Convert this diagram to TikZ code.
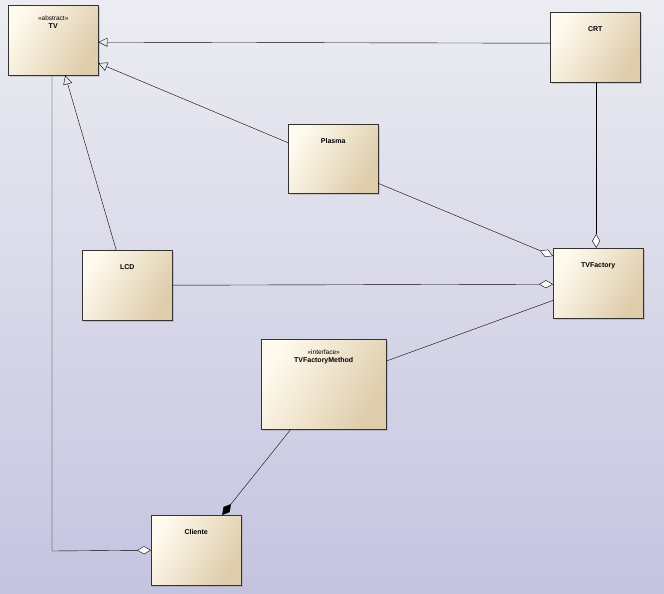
\documentclass[tikz,border=0pt]{standalone}
\usepackage{fontspec}
\setmainfont{Liberation Sans}
\usetikzlibrary{arrows.meta,shadows}
\definecolor{bgtop}{RGB}{236,236,242}
\definecolor{bgbot}{RGB}{196,196,224}
\definecolor{boxlt}{RGB}{255,250,238}
\definecolor{boxdk}{RGB}{222,204,170}
\begin{document}
\begin{tikzpicture}[x=1pt,y=-1pt,
    cls/.style={draw=black!80,anchor=north west,inner sep=0pt,
      shading=axis,left color=boxlt,right color=boxdk,shading angle=60,
      drop shadow={shadow xshift=2pt,shadow yshift=-2pt,opacity=.3}},
    title/.style={anchor=north,font=\fontsize{7}{8}\selectfont\bfseries,align=center},
    gen/.style={draw=black,-{Triangle[open,length=9pt,width=9pt]}},
    agg/.style={draw=black,-{Diamond[fill=white,length=14pt,width=8pt]}},
    comp/.style={draw=black,-{Diamond[length=14pt,width=8pt]}}]
  \shade[top color=bgtop,bottom color=bgbot] (0,0) rectangle (664,594);
  \useasboundingbox (0,0) rectangle (664,594);
  % classes
  \node[cls,minimum width=90,minimum height=70] (tv) at (8,5) {};
  \node[title] at ([yshift=-7]tv.north) {\fontsize{6.5}{8}\selectfont\mdseries «abstract»\\TV};
  \node[cls,minimum width=90,minimum height=70] (crt) at (550,12) {};
  \node[title] at ([yshift=-11]crt.north) {CRT};
  \node[cls,minimum width=90,minimum height=69] (plasma) at (288,124) {};
  \node[title] at ([yshift=-11]plasma.north) {Plasma};
  \node[cls,minimum width=90,minimum height=70] (lcd) at (82,250) {};
  \node[title] at ([yshift=-11]lcd.north) {LCD};
  \node[cls,minimum width=90,minimum height=70] (fact) at (553,248) {};
  \node[title] at ([yshift=-11]fact.north) {TVFactory};
  \node[cls,minimum width=125,minimum height=90] (meth) at (261,339) {};
  \node[title] at ([yshift=-7]meth.north) {\fontsize{6.5}{8}\selectfont\mdseries «interface»\\TVFactoryMethod};
  \node[cls,minimum width=90,minimum height=70] (cli) at (151,515) {};
  \node[title] at ([yshift=-11]cli.north) {Cliente};
  \coordinate (corner) at (52,551);
  % connectors
  \draw[gen] ([yshift=4]crt.west) -- ([yshift=-2]tv.east);
  \draw[gen] ([yshift=16]plasma.west) -- ([yshift=-23]tv.east);
  \draw[gen] ([xshift=-11]lcd.north) -- ([xshift=12]tv.south);
  \draw[agg] (tv.south -| corner) -- (corner) -- (cli.west);
  \draw[agg] ([xshift=1]crt.south) -- ([xshift=-2]fact.north);
  \draw[agg] ([yshift=10]plasma.south east) -- ([yshift=-8]fact.north west);
  \draw[agg] (lcd.east) -- ([yshift=-1]fact.west);
  \draw ([yshift=-22]meth.north east) -- ([yshift=18]fact.south west);
  \draw[comp] ([xshift=-33]meth.south) -- ([xshift=26]cli.north);
\end{tikzpicture}
\end{document}
